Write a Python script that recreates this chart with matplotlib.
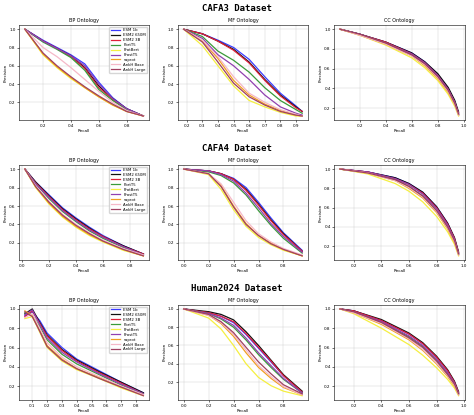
import matplotlib.pyplot as plt

models = ["ESM 1b", "ESM2 650M", "ESM2 3B", "PortT5", "ProtBert",
          "ProstT5", "saprot", "AnkH Base", "AnkH Large"]
colors = ["#3a3aff", "#111111", "#e0203a", "#3a9a3a", "#f5ef40",
          "#9040b0", "#f0a020", "#f5b8c8", "#a04060"]
datasets = ["CAFA3 Dataset", "CAFA4 Dataset", "Human2024 Dataset"]
ontologies = ["BP Ontology", "MF Ontology", "CC Ontology"]

# recall grid per panel (row, col)
recall = {
    (0, 0): [0.07, 0.2, 0.3, 0.4, 0.5, 0.6, 0.7, 0.8, 0.92],
    (0, 1): [0.18, 0.3, 0.4, 0.5, 0.6, 0.7, 0.8, 0.9, 0.94],
    (0, 2): [0.05, 0.2, 0.4, 0.6, 0.7, 0.8, 0.88, 0.93, 0.96],
    (1, 0): [0.02, 0.1, 0.2, 0.3, 0.4, 0.5, 0.6, 0.75, 0.9],
    (1, 1): [0.0, 0.2, 0.3, 0.4, 0.5, 0.6, 0.7, 0.8, 0.95],
    (1, 2): [0.1, 0.3, 0.5, 0.6, 0.7, 0.8, 0.88, 0.93, 0.96],
    (2, 0): [0.05, 0.1, 0.15, 0.2, 0.3, 0.4, 0.55, 0.7, 0.85],
    (2, 1): [0.0, 0.2, 0.3, 0.4, 0.5, 0.6, 0.7, 0.8, 0.95],
    (2, 2): [0.1, 0.2, 0.4, 0.6, 0.7, 0.8, 0.88, 0.93, 0.96],
}

# precision per panel, one list per model (same order as models)
precision = {
    (0, 0): [
        [1.0, 0.88, 0.80, 0.72, 0.62, 0.42, 0.25, 0.13, 0.05],
        [1.0, 0.87, 0.79, 0.71, 0.58, 0.38, 0.24, 0.13, 0.05],
        [1.0, 0.87, 0.79, 0.70, 0.57, 0.36, 0.23, 0.12, 0.05],
        [1.0, 0.86, 0.78, 0.69, 0.55, 0.34, 0.22, 0.12, 0.05],
        [1.0, 0.72, 0.58, 0.46, 0.36, 0.26, 0.17, 0.10, 0.05],
        [1.0, 0.87, 0.79, 0.71, 0.60, 0.40, 0.24, 0.13, 0.05],
        [1.0, 0.73, 0.59, 0.47, 0.36, 0.26, 0.17, 0.10, 0.05],
        [1.0, 0.80, 0.70, 0.58, 0.45, 0.32, 0.20, 0.11, 0.05],
        [1.0, 0.74, 0.60, 0.48, 0.37, 0.27, 0.18, 0.10, 0.05],
    ],
    (0, 1): [
        [1.0, 0.95, 0.88, 0.80, 0.67, 0.48, 0.30, 0.16, 0.10],
        [1.0, 0.95, 0.87, 0.78, 0.64, 0.45, 0.28, 0.15, 0.10],
        [1.0, 0.95, 0.87, 0.77, 0.63, 0.44, 0.27, 0.14, 0.10],
        [1.0, 0.92, 0.76, 0.66, 0.53, 0.36, 0.22, 0.12, 0.08],
        [1.0, 0.82, 0.60, 0.38, 0.22, 0.15, 0.09, 0.05, 0.05],
        [1.0, 0.90, 0.72, 0.60, 0.45, 0.28, 0.15, 0.08, 0.06],
        [1.0, 0.87, 0.68, 0.44, 0.28, 0.18, 0.11, 0.06, 0.05],
        [1.0, 0.88, 0.70, 0.48, 0.30, 0.20, 0.12, 0.07, 0.05],
        [1.0, 0.86, 0.64, 0.41, 0.26, 0.17, 0.10, 0.06, 0.05],
    ],
    (0, 2): [
        [1.0, 0.95, 0.87, 0.76, 0.67, 0.54, 0.40, 0.27, 0.15],
        [1.0, 0.95, 0.87, 0.76, 0.67, 0.55, 0.41, 0.28, 0.16],
        [1.0, 0.95, 0.87, 0.75, 0.66, 0.53, 0.39, 0.26, 0.14],
        [1.0, 0.95, 0.86, 0.74, 0.65, 0.52, 0.38, 0.25, 0.13],
        [1.0, 0.94, 0.84, 0.71, 0.61, 0.48, 0.34, 0.22, 0.12],
        [1.0, 0.95, 0.86, 0.75, 0.66, 0.53, 0.39, 0.26, 0.14],
        [1.0, 0.94, 0.85, 0.73, 0.63, 0.50, 0.36, 0.24, 0.13],
        [1.0, 0.94, 0.85, 0.73, 0.64, 0.51, 0.37, 0.24, 0.13],
        [1.0, 0.95, 0.86, 0.74, 0.65, 0.52, 0.38, 0.25, 0.14],
    ],
    (1, 0): [
        [1.0, 0.86, 0.72, 0.58, 0.47, 0.37, 0.28, 0.17, 0.08],
        [1.0, 0.86, 0.71, 0.57, 0.46, 0.36, 0.27, 0.17, 0.08],
        [1.0, 0.85, 0.70, 0.56, 0.45, 0.35, 0.27, 0.16, 0.08],
        [1.0, 0.84, 0.68, 0.54, 0.43, 0.33, 0.25, 0.15, 0.07],
        [1.0, 0.80, 0.62, 0.48, 0.37, 0.28, 0.21, 0.12, 0.06],
        [1.0, 0.84, 0.69, 0.55, 0.44, 0.34, 0.26, 0.16, 0.07],
        [1.0, 0.81, 0.63, 0.49, 0.38, 0.29, 0.22, 0.13, 0.06],
        [1.0, 0.82, 0.65, 0.51, 0.40, 0.31, 0.23, 0.14, 0.07],
        [1.0, 0.81, 0.64, 0.50, 0.39, 0.30, 0.22, 0.13, 0.06],
    ],
    (1, 1): [
        [1.0, 0.98, 0.95, 0.90, 0.80, 0.64, 0.47, 0.31, 0.12],
        [1.0, 0.98, 0.95, 0.89, 0.78, 0.62, 0.45, 0.30, 0.11],
        [1.0, 0.98, 0.95, 0.89, 0.77, 0.61, 0.44, 0.29, 0.11],
        [1.0, 0.97, 0.93, 0.85, 0.72, 0.55, 0.39, 0.25, 0.09],
        [1.0, 0.94, 0.78, 0.56, 0.38, 0.26, 0.18, 0.12, 0.06],
        [1.0, 0.98, 0.94, 0.87, 0.74, 0.58, 0.41, 0.27, 0.10],
        [1.0, 0.95, 0.82, 0.60, 0.41, 0.28, 0.20, 0.13, 0.06],
        [1.0, 0.95, 0.84, 0.64, 0.44, 0.30, 0.21, 0.14, 0.07],
        [1.0, 0.95, 0.81, 0.59, 0.40, 0.28, 0.19, 0.13, 0.06],
    ],
    (1, 2): [
        [1.0, 0.97, 0.91, 0.85, 0.76, 0.61, 0.44, 0.28, 0.13],
        [1.0, 0.97, 0.91, 0.85, 0.76, 0.61, 0.44, 0.29, 0.14],
        [1.0, 0.97, 0.90, 0.84, 0.75, 0.60, 0.43, 0.28, 0.13],
        [1.0, 0.96, 0.89, 0.82, 0.72, 0.57, 0.40, 0.26, 0.12],
        [1.0, 0.95, 0.85, 0.77, 0.66, 0.51, 0.35, 0.22, 0.10],
        [1.0, 0.97, 0.90, 0.84, 0.74, 0.59, 0.42, 0.27, 0.12],
        [1.0, 0.96, 0.88, 0.80, 0.70, 0.55, 0.38, 0.24, 0.11],
        [1.0, 0.96, 0.88, 0.81, 0.71, 0.56, 0.39, 0.25, 0.11],
        [1.0, 0.96, 0.89, 0.82, 0.72, 0.57, 0.40, 0.26, 0.12],
    ],
    (2, 0): [
        [0.93, 0.97, 0.88, 0.75, 0.60, 0.48, 0.36, 0.24, 0.13],
        [0.95, 1.00, 0.86, 0.73, 0.58, 0.47, 0.35, 0.24, 0.13],
        [0.92, 0.98, 0.85, 0.72, 0.57, 0.46, 0.34, 0.23, 0.12],
        [0.96, 0.94, 0.82, 0.68, 0.53, 0.43, 0.32, 0.21, 0.12],
        [0.90, 0.92, 0.76, 0.60, 0.46, 0.37, 0.28, 0.18, 0.10],
        [0.94, 0.99, 0.84, 0.70, 0.55, 0.45, 0.33, 0.22, 0.12],
        [0.98, 0.93, 0.78, 0.62, 0.48, 0.38, 0.29, 0.19, 0.11],
        [0.91, 0.95, 0.80, 0.65, 0.50, 0.40, 0.30, 0.20, 0.11],
        [0.97, 0.92, 0.77, 0.61, 0.47, 0.38, 0.28, 0.19, 0.10],
    ],
    (2, 1): [
        [1.0, 0.96, 0.92, 0.85, 0.72, 0.57, 0.42, 0.27, 0.09],
        [1.0, 0.97, 0.94, 0.88, 0.75, 0.60, 0.44, 0.28, 0.10],
        [1.0, 0.96, 0.92, 0.86, 0.73, 0.58, 0.43, 0.27, 0.09],
        [1.0, 0.95, 0.89, 0.80, 0.66, 0.50, 0.36, 0.23, 0.08],
        [1.0, 0.90, 0.78, 0.60, 0.40, 0.25, 0.16, 0.10, 0.05],
        [1.0, 0.95, 0.90, 0.82, 0.68, 0.52, 0.38, 0.24, 0.08],
        [1.0, 0.93, 0.84, 0.70, 0.52, 0.36, 0.24, 0.14, 0.06],
        [1.0, 0.93, 0.85, 0.72, 0.55, 0.38, 0.26, 0.15, 0.06],
        [1.0, 0.94, 0.86, 0.74, 0.58, 0.42, 0.29, 0.17, 0.07],
    ],
    (2, 2): [
        [1.0, 0.98, 0.88, 0.74, 0.64, 0.50, 0.36, 0.24, 0.13],
        [1.0, 0.98, 0.89, 0.75, 0.65, 0.51, 0.37, 0.25, 0.14],
        [1.0, 0.98, 0.88, 0.74, 0.64, 0.50, 0.36, 0.24, 0.13],
        [1.0, 0.97, 0.86, 0.71, 0.61, 0.47, 0.33, 0.22, 0.12],
        [1.0, 0.95, 0.80, 0.63, 0.52, 0.39, 0.27, 0.18, 0.10],
        [1.0, 0.97, 0.87, 0.72, 0.62, 0.48, 0.34, 0.23, 0.12],
        [1.0, 0.96, 0.84, 0.68, 0.57, 0.43, 0.30, 0.20, 0.11],
        [1.0, 0.96, 0.85, 0.69, 0.58, 0.44, 0.31, 0.21, 0.11],
        [1.0, 0.97, 0.86, 0.70, 0.60, 0.46, 0.32, 0.22, 0.12],
    ],
}

fig = plt.figure(figsize=(4.74, 4.15), dpi=100)
col_x = [0.04, 0.375, 0.705]
row_y = [0.71, 0.373, 0.036]
w, h = 0.275, 0.23

for r in range(3):
    fig.text(0.5, row_y[r] + h + 0.04, datasets[r], ha="center", va="center",
             family="DejaVu Sans Mono", weight="bold", fontsize=6.5)
    for c in range(3):
        ax = fig.add_axes([col_x[c], row_y[r], w, h])
        for m, name in enumerate(models):
            ax.plot(recall[(r, c)], precision[(r, c)][m], color=colors[m],
                    lw=0.9, label=name)
        ax.set_title(ontologies[c], fontsize=3.5, pad=2)
        ax.set_xlabel("Recall", fontsize=3, labelpad=1)
        ax.set_ylabel("Precision", fontsize=3, labelpad=1)
        ax.tick_params(labelsize=3, length=1.5, width=0.4, pad=1)
        ax.grid(True, lw=0.3, color="#cccccc")
        for s in ax.spines.values():
            s.set_linewidth(0.4)
        if c == 0:
            ax.legend(fontsize=2.8, loc="upper right", frameon=True,
                      handlelength=2.5, labelspacing=0.25, borderpad=0.3)

fig.savefig("out.png", dpi=100)
